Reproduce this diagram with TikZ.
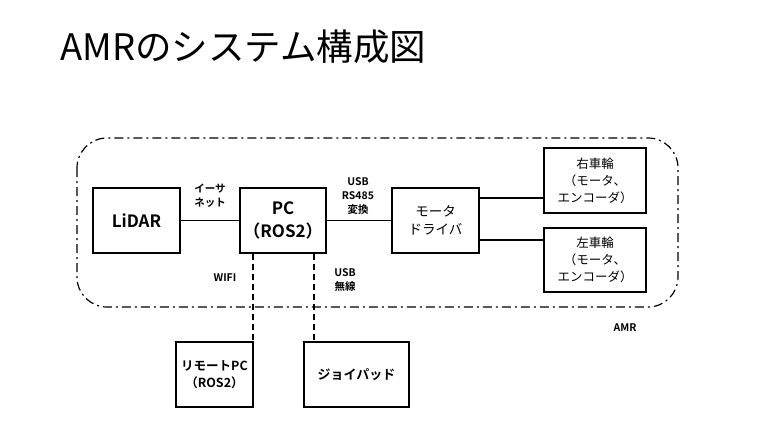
\documentclass[tikz,border=0pt]{standalone}
\usepackage{fontspec}
\setmainfont{Noto Sans CJK JP}
\newfontfamily\jpb{Noto Sans CJK JP Bold}
\begin{document}
\begin{tikzpicture}[x=1pt,y=-1pt,
  box/.style={draw, line width=1.3pt, inner sep=0pt, align=center},
  conn/.style={line width=1.2pt},
  dconn/.style={line width=1.3pt, dash pattern=on 6pt off 4pt},
  lbl/.style={font=\jpb\fontsize{10.5}{14}\selectfont, align=center, inner sep=0pt}]
\useasboundingbox (0,0) rectangle (768,432);
\node[anchor=base west, inner sep=0pt, font=\fontsize{36.5}{40}\selectfont] (title) at (60,60) {AMRのシステム構成図};
\draw[line width=1.2pt, dash pattern=on 9pt off 4pt on 2pt off 4pt, rounded corners=30pt] (77,138) rectangle (678,307);
\node[box, minimum width=87pt, minimum height=65pt, font=\jpb\fontsize{17}{20}\selectfont] (lidar) at (136.5,220.5) {LiDAR};
\node[box, minimum width=86pt, minimum height=65pt, font=\jpb\fontsize{17}{23}\selectfont] (pc) at (283,220.5) {PC\\（ROS2）};
\node[box, minimum width=87pt, minimum height=65pt, font=\fontsize{13.5}{18}\selectfont] (motor) at (435.5,220.5) {モータ\\ドライバ};
\node[box, minimum width=102pt, minimum height=65pt, font=\fontsize{12.5}{17}\selectfont] (rw) at (595,180.5) {右車輪\\（モータ、\\エンコーダ）};
\node[box, minimum width=102pt, minimum height=64pt, font=\fontsize{12.5}{17}\selectfont] (lw) at (595,260) {左車輪\\（モータ、\\エンコーダ）};
\node[box, minimum width=77pt, minimum height=65pt, font=\jpb\fontsize{12.5}{17}\selectfont] (remote) at (214.5,374.5) {リモートPC\\（ROS2）};
\node[box, minimum width=105pt, minimum height=65pt, font=\jpb\fontsize{13}{17}\selectfont] (joy) at (356.5,374.5) {ジョイパッド};
\draw[conn] (lidar.east) -- (pc.west);
\draw[conn] (pc.east) -- (motor.west);
\draw[conn] ([yshift=22.5pt]motor.east) -- ([yshift=22.5pt]motor.east -| rw.west);
\draw[conn] ([yshift=-19.5pt]motor.east) -- ([yshift=-19.5pt]motor.east -| lw.west);
\draw[dconn] ([xshift=-30pt]pc.south) -- ([xshift=-30pt]pc.south |- remote.north);
\draw[dconn] ([xshift=31pt]pc.south) -- ([xshift=31pt]pc.south |- joy.north);
\node[lbl] (eth) at (210,196) {イーサ\\ネット};
\node[lbl] (usb) at (358,196) {USB\\RS485\\変換};
\node[lbl] (wifi) at (225,278) {WIFI};
\node[lbl] (usbw) at (345,280) {USB\\無線};
\node[lbl] (amr) at (625,328) {AMR};
\end{tikzpicture}
\end{document}
